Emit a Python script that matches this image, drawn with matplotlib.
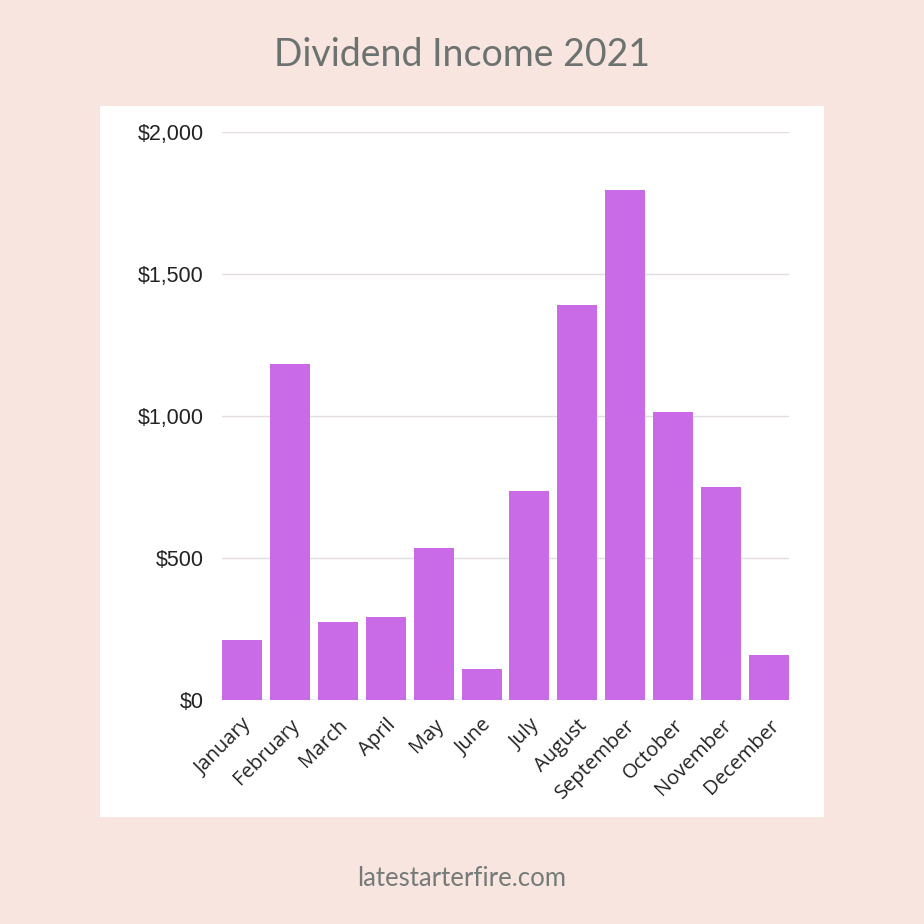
import matplotlib.pyplot as plt
from matplotlib.patches import Rectangle
from matplotlib.ticker import FuncFormatter

months = ['January', 'February', 'March', 'April', 'May', 'June', 'July',
          'August', 'September', 'October', 'November', 'December']
income = [211, 1183, 274, 292, 534, 109, 735, 1390, 1795, 1015, 750, 158]
yticks = [0, 500, 1000, 1500, 2000]

bg = '#f9e5df'
bar_color = '#c96be6'
grey_text = '#6b7370'

W = 924.0
fig = plt.figure(figsize=(9.24, 9.24), dpi=100)
fig.patch.set_facecolor(bg)

# white card behind the chart
fig.patches.append(Rectangle((99.5 / W, 1 - 817 / W), (824 - 99.5) / W, (817 - 106) / W,
                             transform=fig.transFigure, facecolor='white',
                             edgecolor='none', zorder=-1))

ax = fig.add_axes([221.7 / W, 1 - 700 / W, (789.3 - 221.7) / W, (700 - 132) / W])
ax.set_facecolor('none')

width = 40 / 48.0
ax.bar(range(len(months)), income, width=width, color=bar_color, zorder=3)
ax.set_xlim(-width / 2, len(months) - 1 + width / 2)
ax.set_ylim(0, 2000)

ax.set_yticks(yticks)
ax.yaxis.set_major_formatter(FuncFormatter(lambda v, p: '${:,.0f}'.format(v)))
ax.grid(axis='y', color='#e4dce1', linewidth=1, zorder=0)
ax.axhline(0, color='#c8c2c6', linewidth=1, zorder=2)

for s in ax.spines.values():
    s.set_visible(False)
ax.tick_params(axis='y', length=0, pad=13, labelsize=15.5, labelcolor='#222222')
ax.tick_params(axis='x', length=0, pad=11)
for lab in ax.get_yticklabels():
    lab.set_fontfamily('Liberation Sans')

ax.set_xticks(range(len(months)))
ax.set_xticklabels(months, rotation=45, ha='right', rotation_mode='anchor',
                   fontsize=14.5, color='#222222', family='Open Sans')

fig.text(0.5, 1 - 55 / W, 'Dividend Income 2021', ha='center', va='center',
         fontsize=27, color=grey_text, family='Lato')
fig.text(0.5, 1 - 879 / W, 'latestarterfire.com', ha='center', va='center',
         fontsize=18.5, color='#747b78', family='Lato')

plt.savefig('out.png', dpi=100, facecolor=bg)
